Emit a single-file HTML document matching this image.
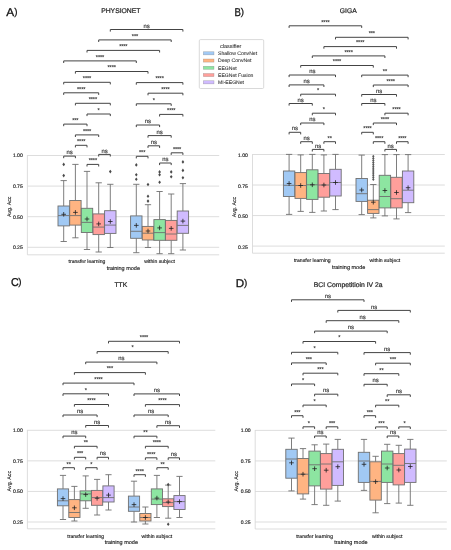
<!DOCTYPE html>
<html><head><meta charset="utf-8"><style>
html,body{margin:0;padding:0;background:#fff;}
body{width:451px;height:550px;overflow:hidden;}
svg{display:block;will-change:transform;filter:blur(0.25px);text-rendering:geometricPrecision;font-family:"Liberation Sans", sans-serif;}
</style></head><body>
<svg width="451" height="550" viewBox="0 0 451 550">
<rect width="451" height="550" fill="#fff"/>
<line x1="27.4" y1="155.5" x2="219.2" y2="155.5" stroke="#d4d4d4" stroke-width="0.8"/>
<line x1="27.4" y1="186.1" x2="219.2" y2="186.1" stroke="#d4d4d4" stroke-width="0.8"/>
<line x1="27.4" y1="216.7" x2="219.2" y2="216.7" stroke="#d4d4d4" stroke-width="0.8"/>
<line x1="27.4" y1="247.3" x2="219.2" y2="247.3" stroke="#d4d4d4" stroke-width="0.8"/>
<line x1="27.4" y1="155.1" x2="27.4" y2="254.8" stroke="#d4d4d4" stroke-width="0.8"/>
<line x1="27.4" y1="254.8" x2="219.2" y2="254.8" stroke="#d4d4d4" stroke-width="0.8"/>
<text x="22.8" y="157.4" font-size="5.1" text-anchor="end" fill="#262626" stroke="#262626" stroke-width="0.15">1.00</text>
<text x="22.8" y="188" font-size="5.1" text-anchor="end" fill="#262626" stroke="#262626" stroke-width="0.15">0.75</text>
<text x="22.8" y="218.6" font-size="5.1" text-anchor="end" fill="#262626" stroke="#262626" stroke-width="0.15">0.50</text>
<text x="22.8" y="249.2" font-size="5.1" text-anchor="end" fill="#262626" stroke="#262626" stroke-width="0.15">0.25</text>
<text x="0" y="0" font-size="5.3" text-anchor="middle" fill="#262626" stroke="#262626" stroke-width="0.15" transform="translate(10.9 206.75) rotate(-90)">Avg. Acc</text>
<text x="87" y="263.3" font-size="5.1" text-anchor="middle" fill="#262626" stroke="#262626" stroke-width="0.15">transfer learning</text>
<text x="159.6" y="263.3" font-size="5.1" text-anchor="middle" fill="#262626" stroke="#262626" stroke-width="0.15">within subject</text>
<text x="123.3" y="270.3" font-size="5.5" text-anchor="middle" fill="#262626" stroke="#262626" stroke-width="0.15">training mode</text>
<text x="120.8" y="13.05" font-size="6.8" text-anchor="middle" fill="#262626" stroke="#262626" stroke-width="0.22">PHYSIONET</text>
<text x="6.3" y="16" font-size="11.4" fill="#111" stroke="#111" stroke-width="0.3" textLength="7.9" lengthAdjust="spacingAndGlyphs">A</text>
<text x="14.2" y="15" font-size="9.8" fill="#111" stroke="#111" stroke-width="0.25">)</text>
<path d="M63.7 206V180.6M63.7 225.9V241.5M60.57 180.6H66.84M60.57 241.5H66.84" stroke="#6f6f6f" stroke-width="0.9" fill="none"/>
<rect x="58" y="206" width="11.4" height="19.9" fill="#a1c9f4" stroke="#6f6f6f" stroke-width="0.9"/>
<line x1="58" y1="215.6" x2="69.4" y2="215.6" stroke="#6f6f6f" stroke-width="0.9"/>
<path d="M61.4 214.3H66M63.7 212V216.6" stroke="#222" stroke-width="0.8" fill="none"/>
<path d="M63.7 162.6L65.05 164.4L63.7 166.2L62.35 164.4Z" fill="#4a4a4a"/>
<path d="M63.7 173.8L65.05 175.6L63.7 177.4L62.35 175.6Z" fill="#4a4a4a"/>
<path d="M75.4 200.5V164.4M75.4 225.1V237.8M72.27 164.4H78.54M72.27 237.8H78.54" stroke="#6f6f6f" stroke-width="0.9" fill="none"/>
<rect x="69.7" y="200.5" width="11.4" height="24.6" fill="#ffb482" stroke="#6f6f6f" stroke-width="0.9"/>
<line x1="69.7" y1="215.6" x2="81.1" y2="215.6" stroke="#6f6f6f" stroke-width="0.9"/>
<path d="M73.1 212.4H77.7M75.4 210.1V214.7" stroke="#222" stroke-width="0.8" fill="none"/>
<path d="M87 208.3V171.4M87 232.5V249.5M83.86 171.4H90.14M83.86 249.5H90.14" stroke="#6f6f6f" stroke-width="0.9" fill="none"/>
<rect x="81.3" y="208.3" width="11.4" height="24.2" fill="#8de5a1" stroke="#6f6f6f" stroke-width="0.9"/>
<line x1="81.3" y1="222.4" x2="92.7" y2="222.4" stroke="#6f6f6f" stroke-width="0.9"/>
<path d="M84.7 219H89.3M87 216.7V221.3" stroke="#222" stroke-width="0.8" fill="none"/>
<path d="M98.7 213.9V182.8M98.7 234.6V252M95.56 182.8H101.84M95.56 252H101.84" stroke="#6f6f6f" stroke-width="0.9" fill="none"/>
<rect x="93" y="213.9" width="11.4" height="20.7" fill="#ff9f9b" stroke="#6f6f6f" stroke-width="0.9"/>
<line x1="93" y1="227.1" x2="104.4" y2="227.1" stroke="#6f6f6f" stroke-width="0.9"/>
<path d="M96.4 223.9H101M98.7 221.6V226.2" stroke="#222" stroke-width="0.8" fill="none"/>
<path d="M110.3 210.7V184.3M110.3 233.4V247.5M107.16 184.3H113.44M107.16 247.5H113.44" stroke="#6f6f6f" stroke-width="0.9" fill="none"/>
<rect x="104.6" y="210.7" width="11.4" height="22.7" fill="#d0bbff" stroke="#6f6f6f" stroke-width="0.9"/>
<line x1="104.6" y1="225.1" x2="116" y2="225.1" stroke="#6f6f6f" stroke-width="0.9"/>
<path d="M108 221.5H112.6M110.3 219.2V223.8" stroke="#222" stroke-width="0.8" fill="none"/>
<path d="M110.3 169.8L111.65 171.6L110.3 173.4L108.95 171.6Z" fill="#4a4a4a"/>
<path d="M136.3 215.9V184.3M136.3 238.3V252.7M133.17 184.3H139.44M133.17 252.7H139.44" stroke="#6f6f6f" stroke-width="0.9" fill="none"/>
<rect x="130.6" y="215.9" width="11.4" height="22.4" fill="#a1c9f4" stroke="#6f6f6f" stroke-width="0.9"/>
<line x1="130.6" y1="231.3" x2="142" y2="231.3" stroke="#6f6f6f" stroke-width="0.9"/>
<path d="M134 225.4H138.6M136.3 223.1V227.7" stroke="#222" stroke-width="0.8" fill="none"/>
<path d="M136.3 163.1L137.65 164.9L136.3 166.7L134.95 164.9Z" fill="#4a4a4a"/>
<path d="M136.3 173L137.65 174.8L136.3 176.6L134.95 174.8Z" fill="#4a4a4a"/>
<path d="M136.3 177.5L137.65 179.3L136.3 181.1L134.95 179.3Z" fill="#4a4a4a"/>
<path d="M148 226.4V204.7M148 240V247.5M144.87 204.7H151.13M144.87 247.5H151.13" stroke="#6f6f6f" stroke-width="0.9" fill="none"/>
<rect x="142.3" y="226.4" width="11.4" height="13.6" fill="#ffb482" stroke="#6f6f6f" stroke-width="0.9"/>
<line x1="142.3" y1="233.2" x2="153.7" y2="233.2" stroke="#6f6f6f" stroke-width="0.9"/>
<path d="M145.7 231H150.3M148 228.7V233.3" stroke="#222" stroke-width="0.8" fill="none"/>
<path d="M148 182.7L149.35 184.5L148 186.3L146.65 184.5Z" fill="#4a4a4a"/>
<path d="M148 194.5L149.35 196.3L148 198.1L146.65 196.3Z" fill="#4a4a4a"/>
<path d="M148 199.3L149.35 201.1L148 202.9L146.65 201.1Z" fill="#4a4a4a"/>
<path d="M159.6 219.6V191.5M159.6 240.3V253.7M156.47 191.5H162.73M156.47 253.7H162.73" stroke="#6f6f6f" stroke-width="0.9" fill="none"/>
<rect x="153.9" y="219.6" width="11.4" height="20.7" fill="#8de5a1" stroke="#6f6f6f" stroke-width="0.9"/>
<line x1="153.9" y1="232.6" x2="165.3" y2="232.6" stroke="#6f6f6f" stroke-width="0.9"/>
<path d="M157.3 227.9H161.9M159.6 225.6V230.2" stroke="#222" stroke-width="0.8" fill="none"/>
<path d="M159.6 170.1L160.95 171.9L159.6 173.7L158.25 171.9Z" fill="#4a4a4a"/>
<path d="M159.6 173L160.95 174.8L159.6 176.6L158.25 174.8Z" fill="#4a4a4a"/>
<path d="M159.6 180.5L160.95 182.3L159.6 184.1L158.25 182.3Z" fill="#4a4a4a"/>
<path d="M171.2 220.4V194M171.2 240.3V253.7M168.06 194H174.33M168.06 253.7H174.33" stroke="#6f6f6f" stroke-width="0.9" fill="none"/>
<rect x="165.5" y="220.4" width="11.4" height="19.9" fill="#ff9f9b" stroke="#6f6f6f" stroke-width="0.9"/>
<line x1="165.5" y1="234" x2="176.9" y2="234" stroke="#6f6f6f" stroke-width="0.9"/>
<path d="M168.9 228.4H173.5M171.2 226.1V230.7" stroke="#222" stroke-width="0.8" fill="none"/>
<path d="M171.2 170.1L172.55 171.9L171.2 173.7L169.85 171.9Z" fill="#4a4a4a"/>
<path d="M171.2 175L172.55 176.8L171.2 178.6L169.85 176.8Z" fill="#4a4a4a"/>
<path d="M182.9 211V183.6M182.9 233.3V250M179.77 183.6H186.03M179.77 250H186.03" stroke="#6f6f6f" stroke-width="0.9" fill="none"/>
<rect x="177.2" y="211" width="11.4" height="22.3" fill="#d0bbff" stroke="#6f6f6f" stroke-width="0.9"/>
<line x1="177.2" y1="225.4" x2="188.6" y2="225.4" stroke="#6f6f6f" stroke-width="0.9"/>
<path d="M180.6 221.1H185.2M182.9 218.8V223.4" stroke="#222" stroke-width="0.8" fill="none"/>
<path d="M182.9 160.1L184.25 161.9L182.9 163.7L181.55 161.9Z" fill="#4a4a4a"/>
<path d="M182.9 168.6L184.25 170.4L182.9 172.2L181.55 170.4Z" fill="#4a4a4a"/>
<path d="M182.9 176L184.25 177.8L182.9 179.6L181.55 177.8Z" fill="#4a4a4a"/>
<path d="M110.3 31.6V29.5H182.9V31.6" stroke="#444444" stroke-width="1" fill="none"/>
<text x="146.6" y="27.6" font-size="5.9" text-anchor="middle" fill="#333" stroke="#333" stroke-width="0.15">ns</text>
<path d="M98.7 42V39.9H171.2V42" stroke="#444444" stroke-width="1" fill="none"/>
<text x="134.95" y="37.7" font-size="5.6" text-anchor="middle" fill="#333" stroke="#333" stroke-width="0.15" letter-spacing="-0.1">***</text>
<path d="M87 52.5V50.4H159.6V52.5" stroke="#444444" stroke-width="1" fill="none"/>
<text x="123.3" y="48.2" font-size="5.6" text-anchor="middle" fill="#333" stroke="#333" stroke-width="0.15" letter-spacing="-0.1">****</text>
<path d="M63.7 63V60.9H136.3V63" stroke="#444444" stroke-width="1" fill="none"/>
<text x="100" y="58.7" font-size="5.6" text-anchor="middle" fill="#333" stroke="#333" stroke-width="0.15" letter-spacing="-0.1">****</text>
<path d="M75.4 73.6V71.5H148V73.6" stroke="#444444" stroke-width="1" fill="none"/>
<text x="111.7" y="69.3" font-size="5.6" text-anchor="middle" fill="#333" stroke="#333" stroke-width="0.15" letter-spacing="-0.1">****</text>
<path d="M63.7 84.4V82.3H110.3V84.4" stroke="#444444" stroke-width="1" fill="none"/>
<text x="87" y="80.1" font-size="5.6" text-anchor="middle" fill="#333" stroke="#333" stroke-width="0.15" letter-spacing="-0.1">****</text>
<path d="M63.7 94.9V92.8H98.7V94.9" stroke="#444444" stroke-width="1" fill="none"/>
<text x="81.2" y="90.6" font-size="5.6" text-anchor="middle" fill="#333" stroke="#333" stroke-width="0.15" letter-spacing="-0.1">****</text>
<path d="M75.4 105.4V103.3H110.3V105.4" stroke="#444444" stroke-width="1" fill="none"/>
<text x="92.85" y="101.1" font-size="5.6" text-anchor="middle" fill="#333" stroke="#333" stroke-width="0.15" letter-spacing="-0.1">****</text>
<path d="M87 116.1V114H110.3V116.1" stroke="#444444" stroke-width="1" fill="none"/>
<text x="98.65" y="111.8" font-size="5.6" text-anchor="middle" fill="#333" stroke="#333" stroke-width="0.15" letter-spacing="-0.1">*</text>
<path d="M63.7 126.2V124.1H87V126.2" stroke="#444444" stroke-width="1" fill="none"/>
<text x="75.35" y="121.9" font-size="5.6" text-anchor="middle" fill="#333" stroke="#333" stroke-width="0.15" letter-spacing="-0.1">***</text>
<path d="M75.4 137V134.9H98.7V137" stroke="#444444" stroke-width="1" fill="none"/>
<text x="87.05" y="132.7" font-size="5.6" text-anchor="middle" fill="#333" stroke="#333" stroke-width="0.15" letter-spacing="-0.1">****</text>
<path d="M75.4 147.4V145.3H87V147.4" stroke="#444444" stroke-width="1" fill="none"/>
<text x="81.2" y="143.1" font-size="5.6" text-anchor="middle" fill="#333" stroke="#333" stroke-width="0.15" letter-spacing="-0.1">****</text>
<path d="M63.7 158.2V156.1H75.4V158.2" stroke="#444444" stroke-width="1" fill="none"/>
<text x="69.55" y="154.2" font-size="5.9" text-anchor="middle" fill="#333" stroke="#333" stroke-width="0.15">ns</text>
<path d="M98.7 156.5V154.4H110.3V156.5" stroke="#444444" stroke-width="1" fill="none"/>
<text x="104.5" y="152.5" font-size="5.9" text-anchor="middle" fill="#333" stroke="#333" stroke-width="0.15">ns</text>
<path d="M87 166.5V164.4H98.7V166.5" stroke="#444444" stroke-width="1" fill="none"/>
<text x="92.85" y="162.2" font-size="5.6" text-anchor="middle" fill="#333" stroke="#333" stroke-width="0.15" letter-spacing="-0.1">****</text>
<path d="M136.3 84.7V82.6H182.9V84.7" stroke="#444444" stroke-width="1" fill="none"/>
<text x="159.6" y="80.4" font-size="5.6" text-anchor="middle" fill="#333" stroke="#333" stroke-width="0.15" letter-spacing="-0.1">****</text>
<path d="M148 95.3V93.2H182.9V95.3" stroke="#444444" stroke-width="1" fill="none"/>
<text x="165.45" y="91" font-size="5.6" text-anchor="middle" fill="#333" stroke="#333" stroke-width="0.15" letter-spacing="-0.1">****</text>
<path d="M136.3 105.9V103.8H171.2V105.9" stroke="#444444" stroke-width="1" fill="none"/>
<text x="153.75" y="101.6" font-size="5.6" text-anchor="middle" fill="#333" stroke="#333" stroke-width="0.15" letter-spacing="-0.1">*</text>
<path d="M159.6 116.5V114.4H182.9V116.5" stroke="#444444" stroke-width="1" fill="none"/>
<text x="171.25" y="112.2" font-size="5.6" text-anchor="middle" fill="#333" stroke="#333" stroke-width="0.15" letter-spacing="-0.1">****</text>
<path d="M136.3 127.1V125H159.6V127.1" stroke="#444444" stroke-width="1" fill="none"/>
<text x="147.95" y="123.1" font-size="5.9" text-anchor="middle" fill="#333" stroke="#333" stroke-width="0.15">ns</text>
<path d="M148 137.7V135.6H171.2V137.7" stroke="#444444" stroke-width="1" fill="none"/>
<text x="159.6" y="133.7" font-size="5.9" text-anchor="middle" fill="#333" stroke="#333" stroke-width="0.15">ns</text>
<path d="M148 147.9V145.8H159.6V147.9" stroke="#444444" stroke-width="1" fill="none"/>
<text x="153.8" y="143.9" font-size="5.9" text-anchor="middle" fill="#333" stroke="#333" stroke-width="0.15">ns</text>
<path d="M171.2 154.9V152.8H182.9V154.9" stroke="#444444" stroke-width="1" fill="none"/>
<text x="177.05" y="150.6" font-size="5.6" text-anchor="middle" fill="#333" stroke="#333" stroke-width="0.15" letter-spacing="-0.1">****</text>
<path d="M136.3 158.4V156.3H148V158.4" stroke="#444444" stroke-width="1" fill="none"/>
<text x="142.15" y="154.1" font-size="5.6" text-anchor="middle" fill="#333" stroke="#333" stroke-width="0.15" letter-spacing="-0.1">***</text>
<path d="M159.6 165.1V163H171.2V165.1" stroke="#444444" stroke-width="1" fill="none"/>
<text x="165.4" y="161.1" font-size="5.9" text-anchor="middle" fill="#333" stroke="#333" stroke-width="0.15">ns</text>
<line x1="252.5" y1="154.5" x2="444.8" y2="154.5" stroke="#d4d4d4" stroke-width="0.8"/>
<line x1="252.5" y1="185.03" x2="444.8" y2="185.03" stroke="#d4d4d4" stroke-width="0.8"/>
<line x1="252.5" y1="215.57" x2="444.8" y2="215.57" stroke="#d4d4d4" stroke-width="0.8"/>
<line x1="252.5" y1="246.1" x2="444.8" y2="246.1" stroke="#d4d4d4" stroke-width="0.8"/>
<line x1="252.5" y1="154.1" x2="252.5" y2="253.2" stroke="#d4d4d4" stroke-width="0.8"/>
<line x1="252.5" y1="253.2" x2="444.8" y2="253.2" stroke="#d4d4d4" stroke-width="0.8"/>
<text x="247.9" y="157.3" font-size="5.1" text-anchor="end" fill="#262626" stroke="#262626" stroke-width="0.15">1.00</text>
<text x="247.9" y="187.83" font-size="5.1" text-anchor="end" fill="#262626" stroke="#262626" stroke-width="0.15">0.75</text>
<text x="247.9" y="218.37" font-size="5.1" text-anchor="end" fill="#262626" stroke="#262626" stroke-width="0.15">0.50</text>
<text x="247.9" y="248.9" font-size="5.1" text-anchor="end" fill="#262626" stroke="#262626" stroke-width="0.15">0.25</text>
<text x="0" y="0" font-size="5.3" text-anchor="middle" fill="#262626" stroke="#262626" stroke-width="0.15" transform="translate(235.5 207.05) rotate(-90)">Avg. Acc</text>
<text x="312.3" y="262.1" font-size="5.1" text-anchor="middle" fill="#262626" stroke="#262626" stroke-width="0.15">transfer learning</text>
<text x="384.9" y="262.1" font-size="5.1" text-anchor="middle" fill="#262626" stroke="#262626" stroke-width="0.15">within subject</text>
<text x="348.6" y="268.8" font-size="5.5" text-anchor="middle" fill="#262626" stroke="#262626" stroke-width="0.15">training mode</text>
<text x="348.3" y="13.05" font-size="6.8" text-anchor="middle" fill="#262626" stroke="#262626" stroke-width="0.22">GIGA</text>
<text x="234.6" y="15.8" font-size="11.4" fill="#111" stroke="#111" stroke-width="0.3" textLength="6.4" lengthAdjust="spacingAndGlyphs">B</text>
<text x="240.8" y="14.8" font-size="9.8" fill="#111" stroke="#111" stroke-width="0.25">)</text>
<path d="M289.1 171V154.4M289.1 196.5V214.4M285.97 154.4H292.24M285.97 214.4H292.24" stroke="#6f6f6f" stroke-width="0.9" fill="none"/>
<rect x="283.4" y="171" width="11.4" height="25.5" fill="#a1c9f4" stroke="#6f6f6f" stroke-width="0.9"/>
<line x1="283.4" y1="185.3" x2="294.8" y2="185.3" stroke="#6f6f6f" stroke-width="0.9"/>
<path d="M286.8 183.5H291.4M289.1 181.2V185.8" stroke="#222" stroke-width="0.8" fill="none"/>
<path d="M300.7 172.6V154.9M300.7 198.4V211.4M297.56 154.9H303.83M297.56 211.4H303.83" stroke="#6f6f6f" stroke-width="0.9" fill="none"/>
<rect x="295" y="172.6" width="11.4" height="25.8" fill="#ffb482" stroke="#6f6f6f" stroke-width="0.9"/>
<line x1="295" y1="185.5" x2="306.4" y2="185.5" stroke="#6f6f6f" stroke-width="0.9"/>
<path d="M298.4 185.5H303M300.7 183.2V187.8" stroke="#222" stroke-width="0.8" fill="none"/>
<path d="M312.3 169.8V154.4M312.3 199.4V212.4M309.17 154.4H315.44M309.17 212.4H315.44" stroke="#6f6f6f" stroke-width="0.9" fill="none"/>
<rect x="306.6" y="169.8" width="11.4" height="29.6" fill="#8de5a1" stroke="#6f6f6f" stroke-width="0.9"/>
<line x1="306.6" y1="184.8" x2="318" y2="184.8" stroke="#6f6f6f" stroke-width="0.9"/>
<path d="M310 184.8H314.6M312.3 182.5V187.1" stroke="#222" stroke-width="0.8" fill="none"/>
<path d="M323.9 173.5V154.9M323.9 197.2V211M320.76 154.9H327.03M320.76 211H327.03" stroke="#6f6f6f" stroke-width="0.9" fill="none"/>
<rect x="318.2" y="173.5" width="11.4" height="23.7" fill="#ff9f9b" stroke="#6f6f6f" stroke-width="0.9"/>
<line x1="318.2" y1="185" x2="329.6" y2="185" stroke="#6f6f6f" stroke-width="0.9"/>
<path d="M321.6 185H326.2M323.9 182.7V187.3" stroke="#222" stroke-width="0.8" fill="none"/>
<path d="M335.5 169.3V154.4M335.5 196V209.6M332.37 154.4H338.63M332.37 209.6H338.63" stroke="#6f6f6f" stroke-width="0.9" fill="none"/>
<rect x="329.8" y="169.3" width="11.4" height="26.7" fill="#d0bbff" stroke="#6f6f6f" stroke-width="0.9"/>
<line x1="329.8" y1="182.5" x2="341.2" y2="182.5" stroke="#6f6f6f" stroke-width="0.9"/>
<path d="M333.2 182.5H337.8M335.5 180.2V184.8" stroke="#222" stroke-width="0.8" fill="none"/>
<path d="M361.7 178.5V155.1M361.7 201.4V214.6M358.56 155.1H364.83M358.56 214.6H364.83" stroke="#6f6f6f" stroke-width="0.9" fill="none"/>
<rect x="356" y="178.5" width="11.4" height="22.9" fill="#a1c9f4" stroke="#6f6f6f" stroke-width="0.9"/>
<line x1="356" y1="193.7" x2="367.4" y2="193.7" stroke="#6f6f6f" stroke-width="0.9"/>
<path d="M359.4 190H364M361.7 187.7V192.3" stroke="#222" stroke-width="0.8" fill="none"/>
<path d="M373.3 200.2V184.5M373.3 213.4V217.9M370.17 184.5H376.44M370.17 217.9H376.44" stroke="#6f6f6f" stroke-width="0.9" fill="none"/>
<rect x="367.6" y="200.2" width="11.4" height="13.2" fill="#ffb482" stroke="#6f6f6f" stroke-width="0.9"/>
<line x1="367.6" y1="209.6" x2="379" y2="209.6" stroke="#6f6f6f" stroke-width="0.9"/>
<path d="M371 202.2H375.6M373.3 199.9V204.5" stroke="#222" stroke-width="0.8" fill="none"/>
<path d="M373.3 154.68L374.51 156.3L373.3 157.92L372.09 156.3Z" fill="#5a5a5a"/>
<path d="M373.3 156.78L374.51 158.4L373.3 160.02L372.09 158.4Z" fill="#5a5a5a"/>
<path d="M373.3 158.88L374.51 160.5L373.3 162.12L372.09 160.5Z" fill="#5a5a5a"/>
<path d="M373.3 160.98L374.51 162.6L373.3 164.22L372.09 162.6Z" fill="#5a5a5a"/>
<path d="M373.3 163.08L374.51 164.7L373.3 166.32L372.09 164.7Z" fill="#5a5a5a"/>
<path d="M373.3 165.18L374.51 166.8L373.3 168.42L372.09 166.8Z" fill="#5a5a5a"/>
<path d="M373.3 167.28L374.51 168.9L373.3 170.52L372.09 168.9Z" fill="#5a5a5a"/>
<path d="M373.3 169.38L374.51 171L373.3 172.62L372.09 171Z" fill="#5a5a5a"/>
<path d="M373.3 171.48L374.51 173.1L373.3 174.72L372.09 173.1Z" fill="#5a5a5a"/>
<path d="M373.3 173.58L374.51 175.2L373.3 176.82L372.09 175.2Z" fill="#5a5a5a"/>
<path d="M373.3 175.68L374.51 177.3L373.3 178.92L372.09 177.3Z" fill="#5a5a5a"/>
<path d="M373.3 177.78L374.51 179.4L373.3 181.02L372.09 179.4Z" fill="#5a5a5a"/>
<path d="M384.9 175.3V154.6M384.9 207.9V215.9M381.76 154.6H388.03M381.76 215.9H388.03" stroke="#6f6f6f" stroke-width="0.9" fill="none"/>
<rect x="379.2" y="175.3" width="11.4" height="32.6" fill="#8de5a1" stroke="#6f6f6f" stroke-width="0.9"/>
<line x1="379.2" y1="196.5" x2="390.6" y2="196.5" stroke="#6f6f6f" stroke-width="0.9"/>
<path d="M382.6 190.5H387.2M384.9 188.2V192.8" stroke="#222" stroke-width="0.8" fill="none"/>
<path d="M396.5 177.3V154.6M396.5 207.9V218.9M393.37 154.6H399.63M393.37 218.9H399.63" stroke="#6f6f6f" stroke-width="0.9" fill="none"/>
<rect x="390.8" y="177.3" width="11.4" height="30.6" fill="#ff9f9b" stroke="#6f6f6f" stroke-width="0.9"/>
<line x1="390.8" y1="198.7" x2="402.2" y2="198.7" stroke="#6f6f6f" stroke-width="0.9"/>
<path d="M394.2 192.5H398.8M396.5 190.2V194.8" stroke="#222" stroke-width="0.8" fill="none"/>
<path d="M408.1 171V154.6M408.1 202.7V212.6M404.97 154.6H411.24M404.97 212.6H411.24" stroke="#6f6f6f" stroke-width="0.9" fill="none"/>
<rect x="402.4" y="171" width="11.4" height="31.7" fill="#d0bbff" stroke="#6f6f6f" stroke-width="0.9"/>
<line x1="402.4" y1="190.2" x2="413.8" y2="190.2" stroke="#6f6f6f" stroke-width="0.9"/>
<path d="M405.8 187.7H410.4M408.1 185.4V190" stroke="#222" stroke-width="0.8" fill="none"/>
<path d="M289.1 27.9V25.8H361.7V27.9" stroke="#444444" stroke-width="1" fill="none"/>
<text x="325.4" y="23.6" font-size="5.6" text-anchor="middle" fill="#333" stroke="#333" stroke-width="0.15" letter-spacing="-0.1">****</text>
<path d="M335.5 39.4V37.3H408.1V39.4" stroke="#444444" stroke-width="1" fill="none"/>
<text x="371.8" y="35.1" font-size="5.6" text-anchor="middle" fill="#333" stroke="#333" stroke-width="0.15" letter-spacing="-0.1">***</text>
<path d="M323.9 48.7V46.6H396.5V48.7" stroke="#444444" stroke-width="1" fill="none"/>
<text x="360.2" y="44.4" font-size="5.6" text-anchor="middle" fill="#333" stroke="#333" stroke-width="0.15" letter-spacing="-0.1">****</text>
<path d="M312.3 58V55.9H384.9V58" stroke="#444444" stroke-width="1" fill="none"/>
<text x="348.6" y="53.7" font-size="5.6" text-anchor="middle" fill="#333" stroke="#333" stroke-width="0.15" letter-spacing="-0.1">****</text>
<path d="M300.7 67.6V65.5H373.3V67.6" stroke="#444444" stroke-width="1" fill="none"/>
<text x="337" y="63.3" font-size="5.6" text-anchor="middle" fill="#333" stroke="#333" stroke-width="0.15" letter-spacing="-0.1">****</text>
<path d="M289.1 77.1V75H335.5V77.1" stroke="#444444" stroke-width="1" fill="none"/>
<text x="312.3" y="73.1" font-size="5.9" text-anchor="middle" fill="#333" stroke="#333" stroke-width="0.15">ns</text>
<path d="M289.1 87V84.9H323.9V87" stroke="#444444" stroke-width="1" fill="none"/>
<text x="306.5" y="83" font-size="5.9" text-anchor="middle" fill="#333" stroke="#333" stroke-width="0.15">ns</text>
<path d="M300.7 96.3V94.2H335.5V96.3" stroke="#444444" stroke-width="1" fill="none"/>
<text x="318.1" y="92" font-size="5.6" text-anchor="middle" fill="#333" stroke="#333" stroke-width="0.15" letter-spacing="-0.1">*</text>
<path d="M289.1 105.6V103.5H312.3V105.6" stroke="#444444" stroke-width="1" fill="none"/>
<text x="300.7" y="101.6" font-size="5.9" text-anchor="middle" fill="#333" stroke="#333" stroke-width="0.15">ns</text>
<path d="M312.3 115.3V113.2H335.5V115.3" stroke="#444444" stroke-width="1" fill="none"/>
<text x="323.9" y="111" font-size="5.6" text-anchor="middle" fill="#333" stroke="#333" stroke-width="0.15" letter-spacing="-0.1">*</text>
<path d="M300.7 125.1V123H323.9V125.1" stroke="#444444" stroke-width="1" fill="none"/>
<text x="312.3" y="121.1" font-size="5.9" text-anchor="middle" fill="#333" stroke="#333" stroke-width="0.15">ns</text>
<path d="M289.1 134.4V132.3H300.7V134.4" stroke="#444444" stroke-width="1" fill="none"/>
<text x="294.9" y="130.4" font-size="5.9" text-anchor="middle" fill="#333" stroke="#333" stroke-width="0.15">ns</text>
<path d="M300.7 143.8V141.7H312.3V143.8" stroke="#444444" stroke-width="1" fill="none"/>
<text x="306.5" y="139.8" font-size="5.9" text-anchor="middle" fill="#333" stroke="#333" stroke-width="0.15">ns</text>
<path d="M323.9 143.8V141.7H335.5V143.8" stroke="#444444" stroke-width="1" fill="none"/>
<text x="329.7" y="139.5" font-size="5.6" text-anchor="middle" fill="#333" stroke="#333" stroke-width="0.15" letter-spacing="-0.1">**</text>
<path d="M312.3 151.5V149.4H323.9V151.5" stroke="#444444" stroke-width="1" fill="none"/>
<text x="318.1" y="147.5" font-size="5.9" text-anchor="middle" fill="#333" stroke="#333" stroke-width="0.15">ns</text>
<path d="M361.7 77.2V75.1H408.1V77.2" stroke="#444444" stroke-width="1" fill="none"/>
<text x="384.9" y="72.9" font-size="5.6" text-anchor="middle" fill="#333" stroke="#333" stroke-width="0.15" letter-spacing="-0.1">**</text>
<path d="M373.3 87.1V85H408.1V87.1" stroke="#444444" stroke-width="1" fill="none"/>
<text x="390.7" y="82.8" font-size="5.6" text-anchor="middle" fill="#333" stroke="#333" stroke-width="0.15" letter-spacing="-0.1">****</text>
<path d="M361.7 96.6V94.5H396.5V96.6" stroke="#444444" stroke-width="1" fill="none"/>
<text x="379.1" y="92.6" font-size="5.9" text-anchor="middle" fill="#333" stroke="#333" stroke-width="0.15">ns</text>
<path d="M361.7 105.6V103.5H384.9V105.6" stroke="#444444" stroke-width="1" fill="none"/>
<text x="373.3" y="101.6" font-size="5.9" text-anchor="middle" fill="#333" stroke="#333" stroke-width="0.15">ns</text>
<path d="M384.9 115.3V113.2H408.1V115.3" stroke="#444444" stroke-width="1" fill="none"/>
<text x="396.5" y="111" font-size="5.6" text-anchor="middle" fill="#333" stroke="#333" stroke-width="0.15" letter-spacing="-0.1">****</text>
<path d="M373.3 125.1V123H396.5V125.1" stroke="#444444" stroke-width="1" fill="none"/>
<text x="384.9" y="120.8" font-size="5.6" text-anchor="middle" fill="#333" stroke="#333" stroke-width="0.15" letter-spacing="-0.1">****</text>
<path d="M361.7 134.4V132.3H373.3V134.4" stroke="#444444" stroke-width="1" fill="none"/>
<text x="367.5" y="130.1" font-size="5.6" text-anchor="middle" fill="#333" stroke="#333" stroke-width="0.15" letter-spacing="-0.1">****</text>
<path d="M373.3 143.8V141.7H384.9V143.8" stroke="#444444" stroke-width="1" fill="none"/>
<text x="379.1" y="139.5" font-size="5.6" text-anchor="middle" fill="#333" stroke="#333" stroke-width="0.15" letter-spacing="-0.1">****</text>
<path d="M396.5 143.8V141.7H408.1V143.8" stroke="#444444" stroke-width="1" fill="none"/>
<text x="402.3" y="139.5" font-size="5.6" text-anchor="middle" fill="#333" stroke="#333" stroke-width="0.15" letter-spacing="-0.1">****</text>
<path d="M384.9 151.5V149.4H396.5V151.5" stroke="#444444" stroke-width="1" fill="none"/>
<text x="390.7" y="147.5" font-size="5.9" text-anchor="middle" fill="#333" stroke="#333" stroke-width="0.15">ns</text>
<line x1="27.4" y1="430.3" x2="215.3" y2="430.3" stroke="#d4d4d4" stroke-width="0.8"/>
<line x1="27.4" y1="460.87" x2="215.3" y2="460.87" stroke="#d4d4d4" stroke-width="0.8"/>
<line x1="27.4" y1="491.43" x2="215.3" y2="491.43" stroke="#d4d4d4" stroke-width="0.8"/>
<line x1="27.4" y1="522" x2="215.3" y2="522" stroke="#d4d4d4" stroke-width="0.8"/>
<line x1="27.4" y1="429.9" x2="27.4" y2="528.8" stroke="#d4d4d4" stroke-width="0.8"/>
<line x1="27.4" y1="528.8" x2="215.3" y2="528.8" stroke="#d4d4d4" stroke-width="0.8"/>
<text x="22.8" y="432.2" font-size="5.1" text-anchor="end" fill="#262626" stroke="#262626" stroke-width="0.15">1.00</text>
<text x="22.8" y="462.77" font-size="5.1" text-anchor="end" fill="#262626" stroke="#262626" stroke-width="0.15">0.75</text>
<text x="22.8" y="493.33" font-size="5.1" text-anchor="end" fill="#262626" stroke="#262626" stroke-width="0.15">0.50</text>
<text x="22.8" y="523.9" font-size="5.1" text-anchor="end" fill="#262626" stroke="#262626" stroke-width="0.15">0.25</text>
<text x="0" y="0" font-size="5.3" text-anchor="middle" fill="#262626" stroke="#262626" stroke-width="0.15" transform="translate(11.2 481.15) rotate(-90)">Avg. Acc</text>
<text x="85.7" y="537.7" font-size="5.1" text-anchor="middle" fill="#262626" stroke="#262626" stroke-width="0.15">transfer learning</text>
<text x="156.9" y="537.7" font-size="5.1" text-anchor="middle" fill="#262626" stroke="#262626" stroke-width="0.15">within subject</text>
<text x="121.3" y="544" font-size="5.5" text-anchor="middle" fill="#262626" stroke="#262626" stroke-width="0.15">training mode</text>
<text x="120.9" y="287.35" font-size="6.8" text-anchor="middle" fill="#262626" stroke="#262626" stroke-width="0.22">TTK</text>
<text x="10.9" y="286.4" font-size="11.4" fill="#111" stroke="#111" stroke-width="0.3" textLength="7.8" lengthAdjust="spacingAndGlyphs">C</text>
<text x="18.3" y="285.4" font-size="9.8" fill="#111" stroke="#111" stroke-width="0.25">)</text>
<path d="M63 488.9V475.4M63 505.8V519.5M59.92 475.4H66.08M59.92 519.5H66.08" stroke="#6f6f6f" stroke-width="0.9" fill="none"/>
<rect x="57.4" y="488.9" width="11.2" height="16.9" fill="#a1c9f4" stroke="#6f6f6f" stroke-width="0.9"/>
<line x1="57.4" y1="500.8" x2="68.6" y2="500.8" stroke="#6f6f6f" stroke-width="0.9"/>
<path d="M60.7 498.6H65.3M63 496.3V500.9" stroke="#222" stroke-width="0.8" fill="none"/>
<path d="M74.4 499.6V486.4M74.4 517.5V521M71.32 486.4H77.48M71.32 521H77.48" stroke="#6f6f6f" stroke-width="0.9" fill="none"/>
<rect x="68.8" y="499.6" width="11.2" height="17.9" fill="#ffb482" stroke="#6f6f6f" stroke-width="0.9"/>
<line x1="68.8" y1="512.5" x2="80" y2="512.5" stroke="#6f6f6f" stroke-width="0.9"/>
<path d="M72.1 507.8H76.7M74.4 505.5V510.1" stroke="#222" stroke-width="0.8" fill="none"/>
<path d="M85.7 490.9V475.9M85.7 500.8V508.3M82.62 475.9H88.78M82.62 508.3H88.78" stroke="#6f6f6f" stroke-width="0.9" fill="none"/>
<rect x="80.1" y="490.9" width="11.2" height="9.9" fill="#8de5a1" stroke="#6f6f6f" stroke-width="0.9"/>
<line x1="80.1" y1="493.9" x2="91.3" y2="493.9" stroke="#6f6f6f" stroke-width="0.9"/>
<path d="M83.4 494.6H88M85.7 492.3V496.9" stroke="#222" stroke-width="0.8" fill="none"/>
<path d="M97.1 490.4V479.4M97.1 505.3V515M94.02 479.4H100.18M94.02 515H100.18" stroke="#6f6f6f" stroke-width="0.9" fill="none"/>
<rect x="91.5" y="490.4" width="11.2" height="14.9" fill="#ff9f9b" stroke="#6f6f6f" stroke-width="0.9"/>
<line x1="91.5" y1="497.6" x2="102.7" y2="497.6" stroke="#6f6f6f" stroke-width="0.9"/>
<path d="M94.8 498.3H99.4M97.1 496V500.6" stroke="#222" stroke-width="0.8" fill="none"/>
<path d="M108.5 485.9V474.7M108.5 502V510M105.42 474.7H111.58M105.42 510H111.58" stroke="#6f6f6f" stroke-width="0.9" fill="none"/>
<rect x="102.9" y="485.9" width="11.2" height="16.1" fill="#d0bbff" stroke="#6f6f6f" stroke-width="0.9"/>
<line x1="102.9" y1="497.6" x2="114.1" y2="497.6" stroke="#6f6f6f" stroke-width="0.9"/>
<path d="M106.2 495.1H110.8M108.5 492.8V497.4" stroke="#222" stroke-width="0.8" fill="none"/>
<path d="M134 496.1V481.2M134 511.3V522M130.92 481.2H137.08M130.92 522H137.08" stroke="#6f6f6f" stroke-width="0.9" fill="none"/>
<rect x="128.4" y="496.1" width="11.2" height="15.2" fill="#a1c9f4" stroke="#6f6f6f" stroke-width="0.9"/>
<line x1="128.4" y1="507" x2="139.6" y2="507" stroke="#6f6f6f" stroke-width="0.9"/>
<path d="M131.7 504.6H136.3M134 502.3V506.9" stroke="#222" stroke-width="0.8" fill="none"/>
<path d="M145.4 513.5V507M145.4 521V524M142.32 507H148.48M142.32 524H148.48" stroke="#6f6f6f" stroke-width="0.9" fill="none"/>
<rect x="139.8" y="513.5" width="11.2" height="7.5" fill="#ffb482" stroke="#6f6f6f" stroke-width="0.9"/>
<line x1="139.8" y1="517.5" x2="151" y2="517.5" stroke="#6f6f6f" stroke-width="0.9"/>
<path d="M143.1 517.5H147.7M145.4 515.2V519.8" stroke="#222" stroke-width="0.8" fill="none"/>
<path d="M156.9 488.9V475.4M156.9 504.6V517.5M153.82 475.4H159.98M153.82 517.5H159.98" stroke="#6f6f6f" stroke-width="0.9" fill="none"/>
<rect x="151.3" y="488.9" width="11.2" height="15.7" fill="#8de5a1" stroke="#6f6f6f" stroke-width="0.9"/>
<line x1="151.3" y1="499.1" x2="162.5" y2="499.1" stroke="#6f6f6f" stroke-width="0.9"/>
<path d="M154.6 498.1H159.2M156.9 495.8V500.4" stroke="#222" stroke-width="0.8" fill="none"/>
<path d="M168.2 498.8V485.1M168.2 506.6V518.2M165.12 485.1H171.28M165.12 518.2H171.28" stroke="#6f6f6f" stroke-width="0.9" fill="none"/>
<rect x="162.6" y="498.8" width="11.2" height="7.8" fill="#ff9f9b" stroke="#6f6f6f" stroke-width="0.9"/>
<line x1="162.6" y1="502.6" x2="173.8" y2="502.6" stroke="#6f6f6f" stroke-width="0.9"/>
<path d="M165.9 502H170.5M168.2 499.7V504.3" stroke="#222" stroke-width="0.8" fill="none"/>
<path d="M168.2 522.5L169.55 524.3L168.2 526.1L166.85 524.3Z" fill="#4a4a4a"/>
<path d="M168.2 482.8L169.55 484.6L168.2 486.4L166.85 484.6Z" fill="#4a4a4a"/>
<path d="M179.5 495.6V476.4M179.5 509.5V517.5M176.42 476.4H182.58M176.42 517.5H182.58" stroke="#6f6f6f" stroke-width="0.9" fill="none"/>
<rect x="173.9" y="495.6" width="11.2" height="13.9" fill="#d0bbff" stroke="#6f6f6f" stroke-width="0.9"/>
<line x1="173.9" y1="501.6" x2="185.1" y2="501.6" stroke="#6f6f6f" stroke-width="0.9"/>
<path d="M177.2 501.6H181.8M179.5 499.3V503.9" stroke="#222" stroke-width="0.8" fill="none"/>
<path d="M108.5 343.4V341.3H179.5V343.4" stroke="#444444" stroke-width="1" fill="none"/>
<text x="144" y="339.1" font-size="5.6" text-anchor="middle" fill="#333" stroke="#333" stroke-width="0.15" letter-spacing="-0.1">****</text>
<path d="M97.1 353.7V351.6H168.2V353.7" stroke="#444444" stroke-width="1" fill="none"/>
<text x="132.65" y="349.4" font-size="5.6" text-anchor="middle" fill="#333" stroke="#333" stroke-width="0.15" letter-spacing="-0.1">*</text>
<path d="M85.7 364.2V362.1H156.9V364.2" stroke="#444444" stroke-width="1" fill="none"/>
<text x="121.3" y="360.2" font-size="5.9" text-anchor="middle" fill="#333" stroke="#333" stroke-width="0.15">ns</text>
<path d="M74.4 374.7V372.6H145.4V374.7" stroke="#444444" stroke-width="1" fill="none"/>
<text x="109.9" y="370.4" font-size="5.6" text-anchor="middle" fill="#333" stroke="#333" stroke-width="0.15" letter-spacing="-0.1">***</text>
<path d="M63 385.2V383.1H134V385.2" stroke="#444444" stroke-width="1" fill="none"/>
<text x="98.5" y="380.9" font-size="5.6" text-anchor="middle" fill="#333" stroke="#333" stroke-width="0.15" letter-spacing="-0.1">****</text>
<path d="M63 395.9V393.8H108.5V395.9" stroke="#444444" stroke-width="1" fill="none"/>
<text x="85.75" y="391.6" font-size="5.6" text-anchor="middle" fill="#333" stroke="#333" stroke-width="0.15" letter-spacing="-0.1">*</text>
<path d="M74.4 406.6V404.5H108.5V406.6" stroke="#444444" stroke-width="1" fill="none"/>
<text x="91.45" y="402.3" font-size="5.6" text-anchor="middle" fill="#333" stroke="#333" stroke-width="0.15" letter-spacing="-0.1">****</text>
<path d="M63 417.1V415H97.1V417.1" stroke="#444444" stroke-width="1" fill="none"/>
<text x="80.05" y="413.1" font-size="5.9" text-anchor="middle" fill="#333" stroke="#333" stroke-width="0.15">ns</text>
<path d="M85.7 427.6V425.5H108.5V427.6" stroke="#444444" stroke-width="1" fill="none"/>
<text x="97.1" y="423.6" font-size="5.9" text-anchor="middle" fill="#333" stroke="#333" stroke-width="0.15">ns</text>
<path d="M63 438.2V436.1H85.7V438.2" stroke="#444444" stroke-width="1" fill="none"/>
<text x="74.35" y="434.2" font-size="5.9" text-anchor="middle" fill="#333" stroke="#333" stroke-width="0.15">ns</text>
<path d="M74.4 448.4V446.3H97.1V448.4" stroke="#444444" stroke-width="1" fill="none"/>
<text x="85.75" y="444.1" font-size="5.6" text-anchor="middle" fill="#333" stroke="#333" stroke-width="0.15" letter-spacing="-0.1">**</text>
<path d="M74.4 459.4V457.3H85.7V459.4" stroke="#444444" stroke-width="1" fill="none"/>
<text x="80.05" y="455.1" font-size="5.6" text-anchor="middle" fill="#333" stroke="#333" stroke-width="0.15" letter-spacing="-0.1">***</text>
<path d="M97.1 459.4V457.3H108.5V459.4" stroke="#444444" stroke-width="1" fill="none"/>
<text x="102.8" y="455.4" font-size="5.9" text-anchor="middle" fill="#333" stroke="#333" stroke-width="0.15">ns</text>
<path d="M63 469.8V467.7H74.4V469.8" stroke="#444444" stroke-width="1" fill="none"/>
<text x="68.7" y="465.5" font-size="5.6" text-anchor="middle" fill="#333" stroke="#333" stroke-width="0.15" letter-spacing="-0.1">**</text>
<path d="M85.7 469.8V467.7H97.1V469.8" stroke="#444444" stroke-width="1" fill="none"/>
<text x="91.4" y="465.5" font-size="5.6" text-anchor="middle" fill="#333" stroke="#333" stroke-width="0.15" letter-spacing="-0.1">*</text>
<path d="M134 396V393.9H179.5V396" stroke="#444444" stroke-width="1" fill="none"/>
<text x="156.75" y="392" font-size="5.9" text-anchor="middle" fill="#333" stroke="#333" stroke-width="0.15">ns</text>
<path d="M145.4 406.7V404.6H179.5V406.7" stroke="#444444" stroke-width="1" fill="none"/>
<text x="162.45" y="402.4" font-size="5.6" text-anchor="middle" fill="#333" stroke="#333" stroke-width="0.15" letter-spacing="-0.1">****</text>
<path d="M134 417.1V415H168.2V417.1" stroke="#444444" stroke-width="1" fill="none"/>
<text x="151.1" y="413.1" font-size="5.9" text-anchor="middle" fill="#333" stroke="#333" stroke-width="0.15">ns</text>
<path d="M156.9 427.8V425.7H179.5V427.8" stroke="#444444" stroke-width="1" fill="none"/>
<text x="168.2" y="423.8" font-size="5.9" text-anchor="middle" fill="#333" stroke="#333" stroke-width="0.15">ns</text>
<path d="M134 438.3V436.2H156.9V438.3" stroke="#444444" stroke-width="1" fill="none"/>
<text x="145.45" y="434" font-size="5.6" text-anchor="middle" fill="#333" stroke="#333" stroke-width="0.15" letter-spacing="-0.1">**</text>
<path d="M145.4 448.4V446.3H168.2V448.4" stroke="#444444" stroke-width="1" fill="none"/>
<text x="156.8" y="444.1" font-size="5.6" text-anchor="middle" fill="#333" stroke="#333" stroke-width="0.15" letter-spacing="-0.1">****</text>
<path d="M145.4 459.9V457.8H156.9V459.9" stroke="#444444" stroke-width="1" fill="none"/>
<text x="151.15" y="455.6" font-size="5.6" text-anchor="middle" fill="#333" stroke="#333" stroke-width="0.15" letter-spacing="-0.1">****</text>
<path d="M168.2 459.9V457.8H179.5V459.9" stroke="#444444" stroke-width="1" fill="none"/>
<text x="173.85" y="455.9" font-size="5.9" text-anchor="middle" fill="#333" stroke="#333" stroke-width="0.15">ns</text>
<path d="M156.9 469.8V467.7H168.2V469.8" stroke="#444444" stroke-width="1" fill="none"/>
<text x="162.55" y="465.5" font-size="5.6" text-anchor="middle" fill="#333" stroke="#333" stroke-width="0.15" letter-spacing="-0.1">**</text>
<path d="M134 476.8V474.7H145.4V476.8" stroke="#444444" stroke-width="1" fill="none"/>
<text x="139.7" y="472.5" font-size="5.6" text-anchor="middle" fill="#333" stroke="#333" stroke-width="0.15" letter-spacing="-0.1">****</text>
<line x1="255.2" y1="430.4" x2="446.8" y2="430.4" stroke="#d4d4d4" stroke-width="0.8"/>
<line x1="255.2" y1="460.93" x2="446.8" y2="460.93" stroke="#d4d4d4" stroke-width="0.8"/>
<line x1="255.2" y1="491.47" x2="446.8" y2="491.47" stroke="#d4d4d4" stroke-width="0.8"/>
<line x1="255.2" y1="522" x2="446.8" y2="522" stroke="#d4d4d4" stroke-width="0.8"/>
<line x1="255.2" y1="430" x2="255.2" y2="529" stroke="#d4d4d4" stroke-width="0.8"/>
<line x1="255.2" y1="529" x2="446.8" y2="529" stroke="#d4d4d4" stroke-width="0.8"/>
<text x="250.6" y="432.3" font-size="5.1" text-anchor="end" fill="#262626" stroke="#262626" stroke-width="0.15">1.00</text>
<text x="250.6" y="462.83" font-size="5.1" text-anchor="end" fill="#262626" stroke="#262626" stroke-width="0.15">0.75</text>
<text x="250.6" y="493.37" font-size="5.1" text-anchor="end" fill="#262626" stroke="#262626" stroke-width="0.15">0.50</text>
<text x="250.6" y="523.9" font-size="5.1" text-anchor="end" fill="#262626" stroke="#262626" stroke-width="0.15">0.25</text>
<text x="0" y="0" font-size="5.3" text-anchor="middle" fill="#262626" stroke="#262626" stroke-width="0.15" transform="translate(238.2 481.3) rotate(-90)">Avg. Acc</text>
<text x="314.6" y="537.5" font-size="5.1" text-anchor="middle" fill="#262626" stroke="#262626" stroke-width="0.15">transfer learning</text>
<text x="387.2" y="537.5" font-size="5.1" text-anchor="middle" fill="#262626" stroke="#262626" stroke-width="0.15">within subject</text>
<text x="350.9" y="544.4" font-size="5.5" text-anchor="middle" fill="#262626" stroke="#262626" stroke-width="0.15">training mode</text>
<text x="348.2" y="286.85" font-size="6.8" text-anchor="middle" fill="#262626" stroke="#262626" stroke-width="0.22">BCI Competitioin IV 2a</text>
<text x="235.7" y="286.7" font-size="11.4" fill="#111" stroke="#111" stroke-width="0.3" textLength="8.4" lengthAdjust="spacingAndGlyphs">D</text>
<text x="243.9" y="285.7" font-size="9.8" fill="#111" stroke="#111" stroke-width="0.25">)</text>
<path d="M291.5 449.3V438.1M291.5 478.2V490.9M288.37 438.1H294.63M288.37 490.9H294.63" stroke="#6f6f6f" stroke-width="0.9" fill="none"/>
<rect x="285.8" y="449.3" width="11.4" height="28.9" fill="#a1c9f4" stroke="#6f6f6f" stroke-width="0.9"/>
<line x1="285.8" y1="459" x2="297.2" y2="459" stroke="#6f6f6f" stroke-width="0.9"/>
<path d="M289.2 462.8H293.8M291.5 460.5V465.1" stroke="#222" stroke-width="0.8" fill="none"/>
<path d="M303 458.5V448.6M303 493.9V499.1M299.87 448.6H306.13M299.87 499.1H306.13" stroke="#6f6f6f" stroke-width="0.9" fill="none"/>
<rect x="297.3" y="458.5" width="11.4" height="35.4" fill="#ffb482" stroke="#6f6f6f" stroke-width="0.9"/>
<line x1="297.3" y1="474.2" x2="308.7" y2="474.2" stroke="#6f6f6f" stroke-width="0.9"/>
<path d="M300.7 474.2H305.3M303 471.9V476.5" stroke="#222" stroke-width="0.8" fill="none"/>
<path d="M314.6 451.1V444.8M314.6 485.9V504.6M311.47 444.8H317.74M311.47 504.6H317.74" stroke="#6f6f6f" stroke-width="0.9" fill="none"/>
<rect x="308.9" y="451.1" width="11.4" height="34.8" fill="#8de5a1" stroke="#6f6f6f" stroke-width="0.9"/>
<line x1="308.9" y1="464.8" x2="320.3" y2="464.8" stroke="#6f6f6f" stroke-width="0.9"/>
<path d="M312.3 468.7H316.9M314.6 466.4V471" stroke="#222" stroke-width="0.8" fill="none"/>
<path d="M326.2 453.6V444.1M326.2 489.1V505.3M323.06 444.1H329.33M323.06 505.3H329.33" stroke="#6f6f6f" stroke-width="0.9" fill="none"/>
<rect x="320.5" y="453.6" width="11.4" height="35.5" fill="#ff9f9b" stroke="#6f6f6f" stroke-width="0.9"/>
<line x1="320.5" y1="464" x2="331.9" y2="464" stroke="#6f6f6f" stroke-width="0.9"/>
<path d="M323.9 470.2H328.5M326.2 467.9V472.5" stroke="#222" stroke-width="0.8" fill="none"/>
<path d="M337.8 449.3V439.4M337.8 485.4V501.1M334.67 439.4H340.94M334.67 501.1H340.94" stroke="#6f6f6f" stroke-width="0.9" fill="none"/>
<rect x="332.1" y="449.3" width="11.4" height="36.1" fill="#d0bbff" stroke="#6f6f6f" stroke-width="0.9"/>
<line x1="332.1" y1="461.8" x2="343.5" y2="461.8" stroke="#6f6f6f" stroke-width="0.9"/>
<path d="M335.5 466.7H340.1M337.8 464.4V469" stroke="#222" stroke-width="0.8" fill="none"/>
<path d="M364 452.3V439.4M364 482.4V490.4M360.87 439.4H367.13M360.87 490.4H367.13" stroke="#6f6f6f" stroke-width="0.9" fill="none"/>
<rect x="358.3" y="452.3" width="11.4" height="30.1" fill="#a1c9f4" stroke="#6f6f6f" stroke-width="0.9"/>
<line x1="358.3" y1="461" x2="369.7" y2="461" stroke="#6f6f6f" stroke-width="0.9"/>
<path d="M361.7 464.3H366.3M364 462V466.6" stroke="#222" stroke-width="0.8" fill="none"/>
<path d="M375.6 461.8V456.3M375.6 500.1V512.8M372.47 456.3H378.74M372.47 512.8H378.74" stroke="#6f6f6f" stroke-width="0.9" fill="none"/>
<rect x="369.9" y="461.8" width="11.4" height="38.3" fill="#ffb482" stroke="#6f6f6f" stroke-width="0.9"/>
<line x1="369.9" y1="481.4" x2="381.3" y2="481.4" stroke="#6f6f6f" stroke-width="0.9"/>
<path d="M373.3 481.7H377.9M375.6 479.4V484" stroke="#222" stroke-width="0.8" fill="none"/>
<path d="M387.2 451.1V444.3M387.2 482.4V503.6M384.06 444.3H390.33M384.06 503.6H390.33" stroke="#6f6f6f" stroke-width="0.9" fill="none"/>
<rect x="381.5" y="451.1" width="11.4" height="31.3" fill="#8de5a1" stroke="#6f6f6f" stroke-width="0.9"/>
<line x1="381.5" y1="464" x2="392.9" y2="464" stroke="#6f6f6f" stroke-width="0.9"/>
<path d="M384.9 468H389.5M387.2 465.7V470.3" stroke="#222" stroke-width="0.8" fill="none"/>
<path d="M398.8 453.6V445.3M398.8 484.9V503.1M395.67 445.3H401.94M395.67 503.1H401.94" stroke="#6f6f6f" stroke-width="0.9" fill="none"/>
<rect x="393.1" y="453.6" width="11.4" height="31.3" fill="#ff9f9b" stroke="#6f6f6f" stroke-width="0.9"/>
<line x1="393.1" y1="465.3" x2="404.5" y2="465.3" stroke="#6f6f6f" stroke-width="0.9"/>
<path d="M396.5 470H401.1M398.8 467.7V472.3" stroke="#222" stroke-width="0.8" fill="none"/>
<path d="M410.3 449.1V439.4M410.3 482.4V505.3M407.17 439.4H413.44M407.17 505.3H413.44" stroke="#6f6f6f" stroke-width="0.9" fill="none"/>
<rect x="404.6" y="449.1" width="11.4" height="33.3" fill="#d0bbff" stroke="#6f6f6f" stroke-width="0.9"/>
<line x1="404.6" y1="463.5" x2="416" y2="463.5" stroke="#6f6f6f" stroke-width="0.9"/>
<path d="M408 466.5H412.6M410.3 464.2V468.8" stroke="#222" stroke-width="0.8" fill="none"/>
<path d="M291.5 301.9V299.8H364V301.9" stroke="#444444" stroke-width="1" fill="none"/>
<text x="327.75" y="297.9" font-size="5.9" text-anchor="middle" fill="#333" stroke="#333" stroke-width="0.15">ns</text>
<path d="M337.8 312.5V310.4H410.3V312.5" stroke="#444444" stroke-width="1" fill="none"/>
<text x="374.05" y="308.5" font-size="5.9" text-anchor="middle" fill="#333" stroke="#333" stroke-width="0.15">ns</text>
<path d="M326.2 322.8V320.7H398.8V322.8" stroke="#444444" stroke-width="1" fill="none"/>
<text x="362.5" y="318.8" font-size="5.9" text-anchor="middle" fill="#333" stroke="#333" stroke-width="0.15">ns</text>
<path d="M314.6 333.2V331.1H387.2V333.2" stroke="#444444" stroke-width="1" fill="none"/>
<text x="350.9" y="329.2" font-size="5.9" text-anchor="middle" fill="#333" stroke="#333" stroke-width="0.15">ns</text>
<path d="M303 343.6V341.5H375.6V343.6" stroke="#444444" stroke-width="1" fill="none"/>
<text x="339.3" y="339.3" font-size="5.6" text-anchor="middle" fill="#333" stroke="#333" stroke-width="0.15" letter-spacing="-0.1">*</text>
<path d="M291.5 354.4V352.3H337.8V354.4" stroke="#444444" stroke-width="1" fill="none"/>
<text x="314.65" y="350.1" font-size="5.6" text-anchor="middle" fill="#333" stroke="#333" stroke-width="0.15" letter-spacing="-0.1">*</text>
<path d="M291.5 365V362.9H326.2V365" stroke="#444444" stroke-width="1" fill="none"/>
<text x="308.85" y="360.7" font-size="5.6" text-anchor="middle" fill="#333" stroke="#333" stroke-width="0.15" letter-spacing="-0.1">***</text>
<path d="M303 375.3V373.2H337.8V375.3" stroke="#444444" stroke-width="1" fill="none"/>
<text x="320.4" y="371" font-size="5.6" text-anchor="middle" fill="#333" stroke="#333" stroke-width="0.15" letter-spacing="-0.1">***</text>
<path d="M291.5 386.1V384H314.6V386.1" stroke="#444444" stroke-width="1" fill="none"/>
<text x="303.05" y="381.8" font-size="5.6" text-anchor="middle" fill="#333" stroke="#333" stroke-width="0.15" letter-spacing="-0.1">*</text>
<path d="M314.6 396.3V394.2H337.8V396.3" stroke="#444444" stroke-width="1" fill="none"/>
<text x="326.2" y="392.3" font-size="5.9" text-anchor="middle" fill="#333" stroke="#333" stroke-width="0.15">ns</text>
<path d="M303 407.2V405.1H326.2V407.2" stroke="#444444" stroke-width="1" fill="none"/>
<text x="314.6" y="402.9" font-size="5.6" text-anchor="middle" fill="#333" stroke="#333" stroke-width="0.15" letter-spacing="-0.1">*</text>
<path d="M291.5 417.8V415.7H303V417.8" stroke="#444444" stroke-width="1" fill="none"/>
<text x="297.25" y="413.5" font-size="5.6" text-anchor="middle" fill="#333" stroke="#333" stroke-width="0.15" letter-spacing="-0.1">***</text>
<path d="M303 428.9V426.8H314.6V428.9" stroke="#444444" stroke-width="1" fill="none"/>
<text x="308.8" y="424.6" font-size="5.6" text-anchor="middle" fill="#333" stroke="#333" stroke-width="0.15" letter-spacing="-0.1">*</text>
<path d="M326.2 428.9V426.8H337.8V428.9" stroke="#444444" stroke-width="1" fill="none"/>
<text x="332" y="424.6" font-size="5.6" text-anchor="middle" fill="#333" stroke="#333" stroke-width="0.15" letter-spacing="-0.1">***</text>
<path d="M314.6 438.1V436H326.2V438.1" stroke="#444444" stroke-width="1" fill="none"/>
<text x="320.4" y="434.1" font-size="5.9" text-anchor="middle" fill="#333" stroke="#333" stroke-width="0.15">ns</text>
<path d="M364 354.7V352.6H410.3V354.7" stroke="#444444" stroke-width="1" fill="none"/>
<text x="387.15" y="350.7" font-size="5.9" text-anchor="middle" fill="#333" stroke="#333" stroke-width="0.15">ns</text>
<path d="M375.6 365.3V363.2H410.3V365.3" stroke="#444444" stroke-width="1" fill="none"/>
<text x="392.95" y="361" font-size="5.6" text-anchor="middle" fill="#333" stroke="#333" stroke-width="0.15" letter-spacing="-0.1">***</text>
<path d="M364 375.8V373.7H398.8V375.8" stroke="#444444" stroke-width="1" fill="none"/>
<text x="381.4" y="371.5" font-size="5.6" text-anchor="middle" fill="#333" stroke="#333" stroke-width="0.15" letter-spacing="-0.1">**</text>
<path d="M364 386.4V384.3H387.2V386.4" stroke="#444444" stroke-width="1" fill="none"/>
<text x="375.6" y="382.4" font-size="5.9" text-anchor="middle" fill="#333" stroke="#333" stroke-width="0.15">ns</text>
<path d="M387.2 396.9V394.8H410.3V396.9" stroke="#444444" stroke-width="1" fill="none"/>
<text x="398.75" y="392.9" font-size="5.9" text-anchor="middle" fill="#333" stroke="#333" stroke-width="0.15">ns</text>
<path d="M375.6 407.3V405.2H398.8V407.3" stroke="#444444" stroke-width="1" fill="none"/>
<text x="387.2" y="403" font-size="5.6" text-anchor="middle" fill="#333" stroke="#333" stroke-width="0.15" letter-spacing="-0.1">**</text>
<path d="M364 417.8V415.7H375.6V417.8" stroke="#444444" stroke-width="1" fill="none"/>
<text x="369.8" y="413.5" font-size="5.6" text-anchor="middle" fill="#333" stroke="#333" stroke-width="0.15" letter-spacing="-0.1">***</text>
<path d="M375.6 429V426.9H387.2V429" stroke="#444444" stroke-width="1" fill="none"/>
<text x="381.4" y="424.7" font-size="5.6" text-anchor="middle" fill="#333" stroke="#333" stroke-width="0.15" letter-spacing="-0.1">***</text>
<path d="M398.8 429V426.9H410.3V429" stroke="#444444" stroke-width="1" fill="none"/>
<text x="404.55" y="424.7" font-size="5.6" text-anchor="middle" fill="#333" stroke="#333" stroke-width="0.15" letter-spacing="-0.1">*</text>
<path d="M387.2 438.1V436H398.8V438.1" stroke="#444444" stroke-width="1" fill="none"/>
<text x="393" y="434.1" font-size="5.9" text-anchor="middle" fill="#333" stroke="#333" stroke-width="0.15">ns</text>
<rect x="199.3" y="39.6" width="64.4" height="48.9" rx="1.2" fill="#fff" stroke="#cfcfcf" stroke-width="0.8"/>
<text x="230.7" y="48.2" font-size="5.5" text-anchor="middle" fill="#333" stroke="#333" stroke-width="0.08">classifier</text>
<rect x="203.3" y="51.75" width="10.7" height="3.1" fill="#a1c9f4" stroke="#6f6f6f" stroke-width="0.5" stroke-opacity="0.5"/>
<text x="218" y="55.1" font-size="5.1" text-anchor="start" fill="#333" stroke="#333" stroke-width="0.08">Shallow ConvNet</text>
<rect x="203.3" y="59" width="10.7" height="3.1" fill="#ffb482" stroke="#6f6f6f" stroke-width="0.5" stroke-opacity="0.5"/>
<text x="218" y="62.35" font-size="5.1" text-anchor="start" fill="#333" stroke="#333" stroke-width="0.08">Deep ConvNet</text>
<rect x="203.3" y="66.25" width="10.7" height="3.1" fill="#8de5a1" stroke="#6f6f6f" stroke-width="0.5" stroke-opacity="0.5"/>
<text x="218" y="69.6" font-size="5.1" text-anchor="start" fill="#333" stroke="#333" stroke-width="0.08">EEGNet</text>
<rect x="203.3" y="73.5" width="10.7" height="3.1" fill="#ff9f9b" stroke="#6f6f6f" stroke-width="0.5" stroke-opacity="0.5"/>
<text x="218" y="76.85" font-size="5.1" text-anchor="start" fill="#333" stroke="#333" stroke-width="0.08">EEGNet Fusion</text>
<rect x="203.3" y="80.75" width="10.7" height="3.1" fill="#d0bbff" stroke="#6f6f6f" stroke-width="0.5" stroke-opacity="0.5"/>
<text x="218" y="84.1" font-size="5.1" text-anchor="start" fill="#333" stroke="#333" stroke-width="0.08">MI-EEGNet</text>
</svg>
</body></html>
